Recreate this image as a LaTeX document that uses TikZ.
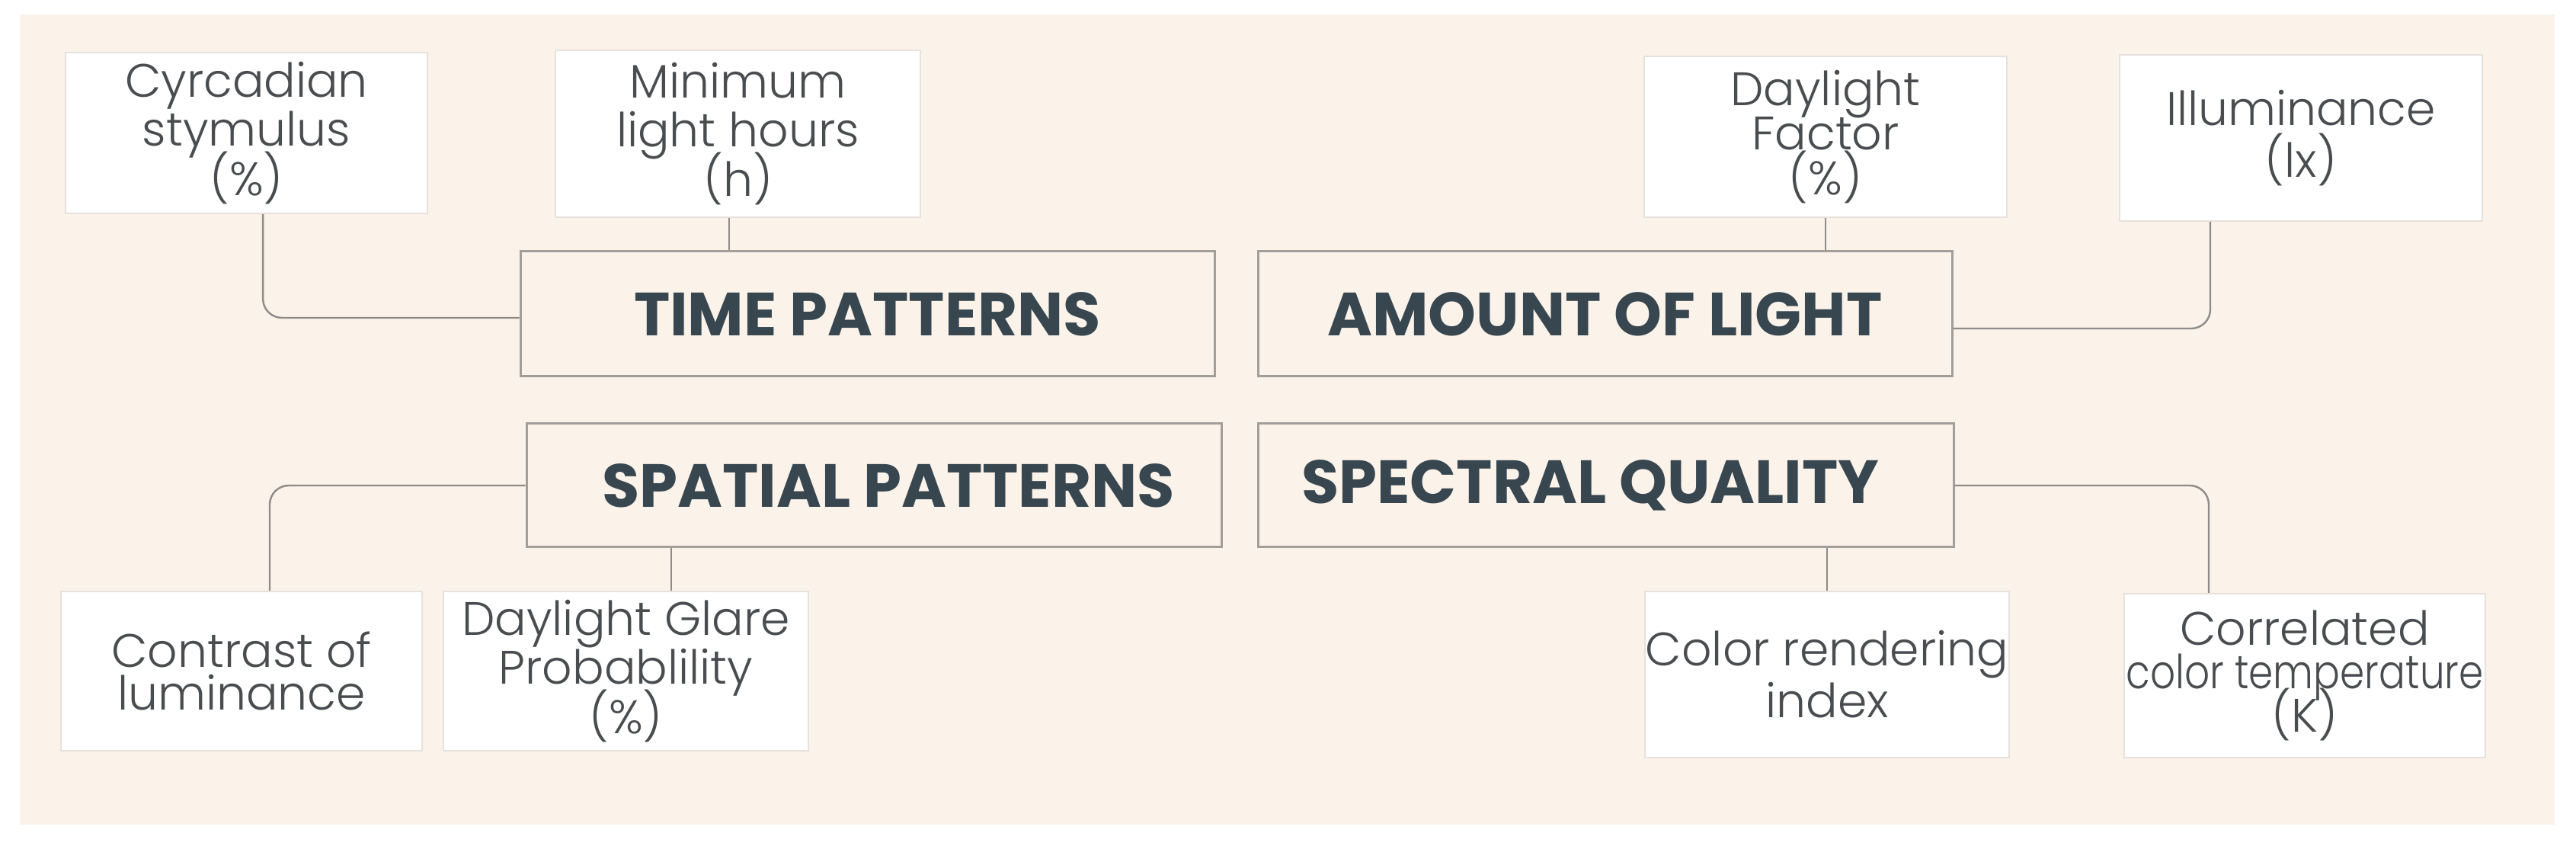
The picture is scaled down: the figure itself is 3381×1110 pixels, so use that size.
\documentclass[tikz,border=0pt]{standalone}
\usepackage{fontspec}
\setmainfont{Poppins}
\newfontfamily\lightfont{Poppins Light}
\newcommand\tightls{\lineskiplimit=-100pt\relax}
\definecolor{bgc}{HTML}{FBF2EA}
\definecolor{mainborder}{HTML}{A29E9A}
\definecolor{smallborder}{HTML}{E6E1DC}
\definecolor{titlec}{HTML}{37464F}
\definecolor{smallc}{HTML}{4A4D50}
\definecolor{connc}{HTML}{8E8B88}
\tikzset{
  mainbox/.style={draw=mainborder, line width=0.75pt, fill=bgc, inner sep=0pt,
    font=\fontsize{20}{20}\selectfont\bfseries, text=titlec},
  smallbox/.style={draw=smallborder, line width=0.5pt, fill=white, inner sep=0pt,
    align=center, font=\lightfont\fontsize{15.4}{16.2}\selectfont\tightls, text=smallc},
  conn/.style={draw=connc, line width=0.6pt, rounded corners=6.25pt},
}
\begin{document}
\begin{tikzpicture}[x=0.25pt, y=-0.25pt]
\useasboundingbox (0,0) rectangle (3381,1110);
\fill[white] (0,0) rectangle (3381,1110);
\fill[bgc] (26,19) rectangle (3353,1082);
% main boxes
\node[mainbox, minimum width=227.75pt, minimum height=41pt] (time) at (1138.5,412) {\raisebox{-0.8pt}{TIME PATTERNS}};
\node[mainbox, minimum width=227.75pt, minimum height=41pt] (amount) at (2106.5,412) {AMOUNT OF LIGHT};
\node[mainbox, minimum width=228pt, minimum height=40.5pt] (spatial) at (1147,637) {\hspace*{9.5pt}SPATIAL PATTERNS};
\node[mainbox, minimum width=228.25pt, minimum height=40.5pt] (spectral) at (2107.5,637) {SPECTRAL QUALITY\hspace*{10pt}};
% small boxes
\node[smallbox, minimum width=118.75pt, minimum height=52.75pt] (cyr) at (323.5,174.5) {Cyrcadian\\stymulus\\(\%)};
\node[smallbox, minimum width=119.75pt, minimum height=54.75pt] (min) at (968.5,175.5) {Minimum\\light hours\\(h)};
\node[smallbox, minimum width=119pt, minimum height=52.75pt, font=\lightfont\fontsize{15.4}{14.6}\selectfont\tightls] (df) at (2396,179.5) {Daylight\\Factor\\(\%)};
\node[smallbox, minimum width=119pt, minimum height=54.5pt, font=\lightfont\fontsize{15.4}{17}\selectfont\tightls] (ill) at (3020,181) {Illuminance\\(lx)};
\node[smallbox, minimum width=118.5pt, minimum height=52.25pt, font=\lightfont\fontsize{15.4}{14}\selectfont\tightls] (contrast) at (317,880.5) {Contrast of\\luminance};
\node[smallbox, minimum width=119.75pt, minimum height=52.25pt] (glare) at (821.5,880.5) {Daylight Glare\\Probablility\\(\%)};
\node[smallbox, minimum width=119.5pt, minimum height=54.5pt, font=\lightfont\fontsize{15.4}{17}\selectfont\tightls] (cri) at (2398,885) {Color rendering\\index};
\node[smallbox, minimum width=118.5pt, minimum height=53.75pt, font=\lightfont\fontsize{15.4}{14.2}\selectfont\tightls] (cct) at (3025,886.5) {Correlated\\\scalebox{0.84}[1]{color temperature}\\(K)};
% connectors
\draw[conn] ([xshift=5.4pt]cyr.south) |- ([yshift=-1.25pt]time.west);
\draw[conn] ([xshift=-2.9pt]min.south) -- ([xshift=-2.9pt]min.south |- time.north);
\draw[conn] (df.south) -- (df.south |- amount.north);
\draw[conn] ([yshift=-4.75pt]amount.east) -| ([xshift=-29.75pt]ill.south);
\draw[conn] (spatial.west) -| ([xshift=9.25pt]contrast.north);
\draw[conn] ([xshift=14.9pt]glare.north) -- ([xshift=14.9pt]glare.north |- spatial.south);
\draw[conn] (cri.north) -- (cri.north |- spectral.south);
\draw[conn] (spectral.east) -| ([xshift=-31.5pt]cct.north);
\end{tikzpicture}
\end{document}
